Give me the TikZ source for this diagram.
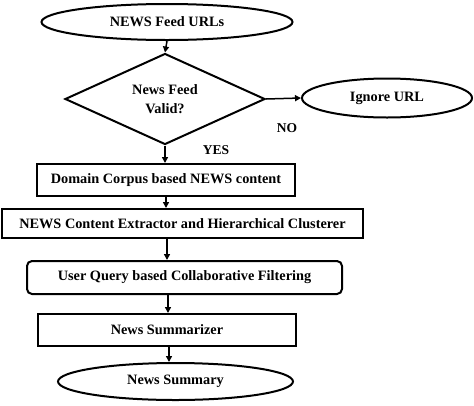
\documentclass[tikz,border=0pt]{standalone}
\usepackage{fontspec}
\setmainfont{Liberation Serif}
\usetikzlibrary{shapes.geometric,arrows.meta}
\begin{document}
\begin{tikzpicture}[x=1pt,y=-1pt,
  every node/.style={font=\fontsize{14.3}{16}\selectfont\bfseries, inner sep=0pt},
  oval/.style={draw, ellipse, line width=2pt},
  procbox/.style={draw, rectangle, line width=2pt},
  decision/.style={draw, diamond, line width=2pt, align=center},
  flow/.style={line width=1.5pt, -{Triangle[length=6pt,width=6pt]}},
  lbl/.style={font=\fontsize{13.5}{15}\selectfont\bfseries}]
\useasboundingbox (0,0) rectangle (474,405);
\node[oval, minimum width=251pt, minimum height=36pt] (feed) at (167,22) {NEWS Feed URLs};
\node[decision, minimum width=200pt, minimum height=91pt, aspect=2.2] (valid) at (165,99) {News Feed\\[3pt]Valid?};
\node[oval, minimum width=170pt, minimum height=39pt] (ignore) at (387,98) {Ignore URL};
\node[procbox, minimum width=258pt, minimum height=32pt] (corpus) at (166,180) {Domain Corpus based NEWS content};
\node[procbox, minimum width=361pt, minimum height=29pt] (extract) at (182.5,223.5) {NEWS Content Extractor and Hierarchical Clusterer};
\node[procbox, rounded corners=5pt, minimum width=315pt, minimum height=33pt] (query) at (184.5,277.5) {User Query based Collaborative Filtering};
\node[procbox, minimum width=258pt, minimum height=32pt] (summ) at (167,330) {News Summarizer};
\node[oval, minimum width=235pt, minimum height=37pt] (summary) at (175.5,381.5) {News Summary};
\node[lbl] (no) at (287,128) {NO};
\node[lbl] (yes) at (216,150) {YES};
\draw[flow] (feed.south) -- (valid.north);
\draw[flow] (valid.east) -- (ignore.west);
\draw[flow] (valid.south) -- (corpus.north -| valid.south);
\draw[flow] (corpus.south) -- (extract.north -| corpus.south);
\draw[flow] ([xshift=1pt]extract.south -| corpus.south) -- ([xshift=1pt]query.north -| corpus.south);
\draw[flow] ([xshift=2pt]query.south -| corpus.south) -- ([xshift=2pt]summ.north -| corpus.south);
\draw[flow] ([xshift=3pt]summ.south -| corpus.south) -- ([xshift=3pt]summary.north -| corpus.south);
\end{tikzpicture}
\end{document}
